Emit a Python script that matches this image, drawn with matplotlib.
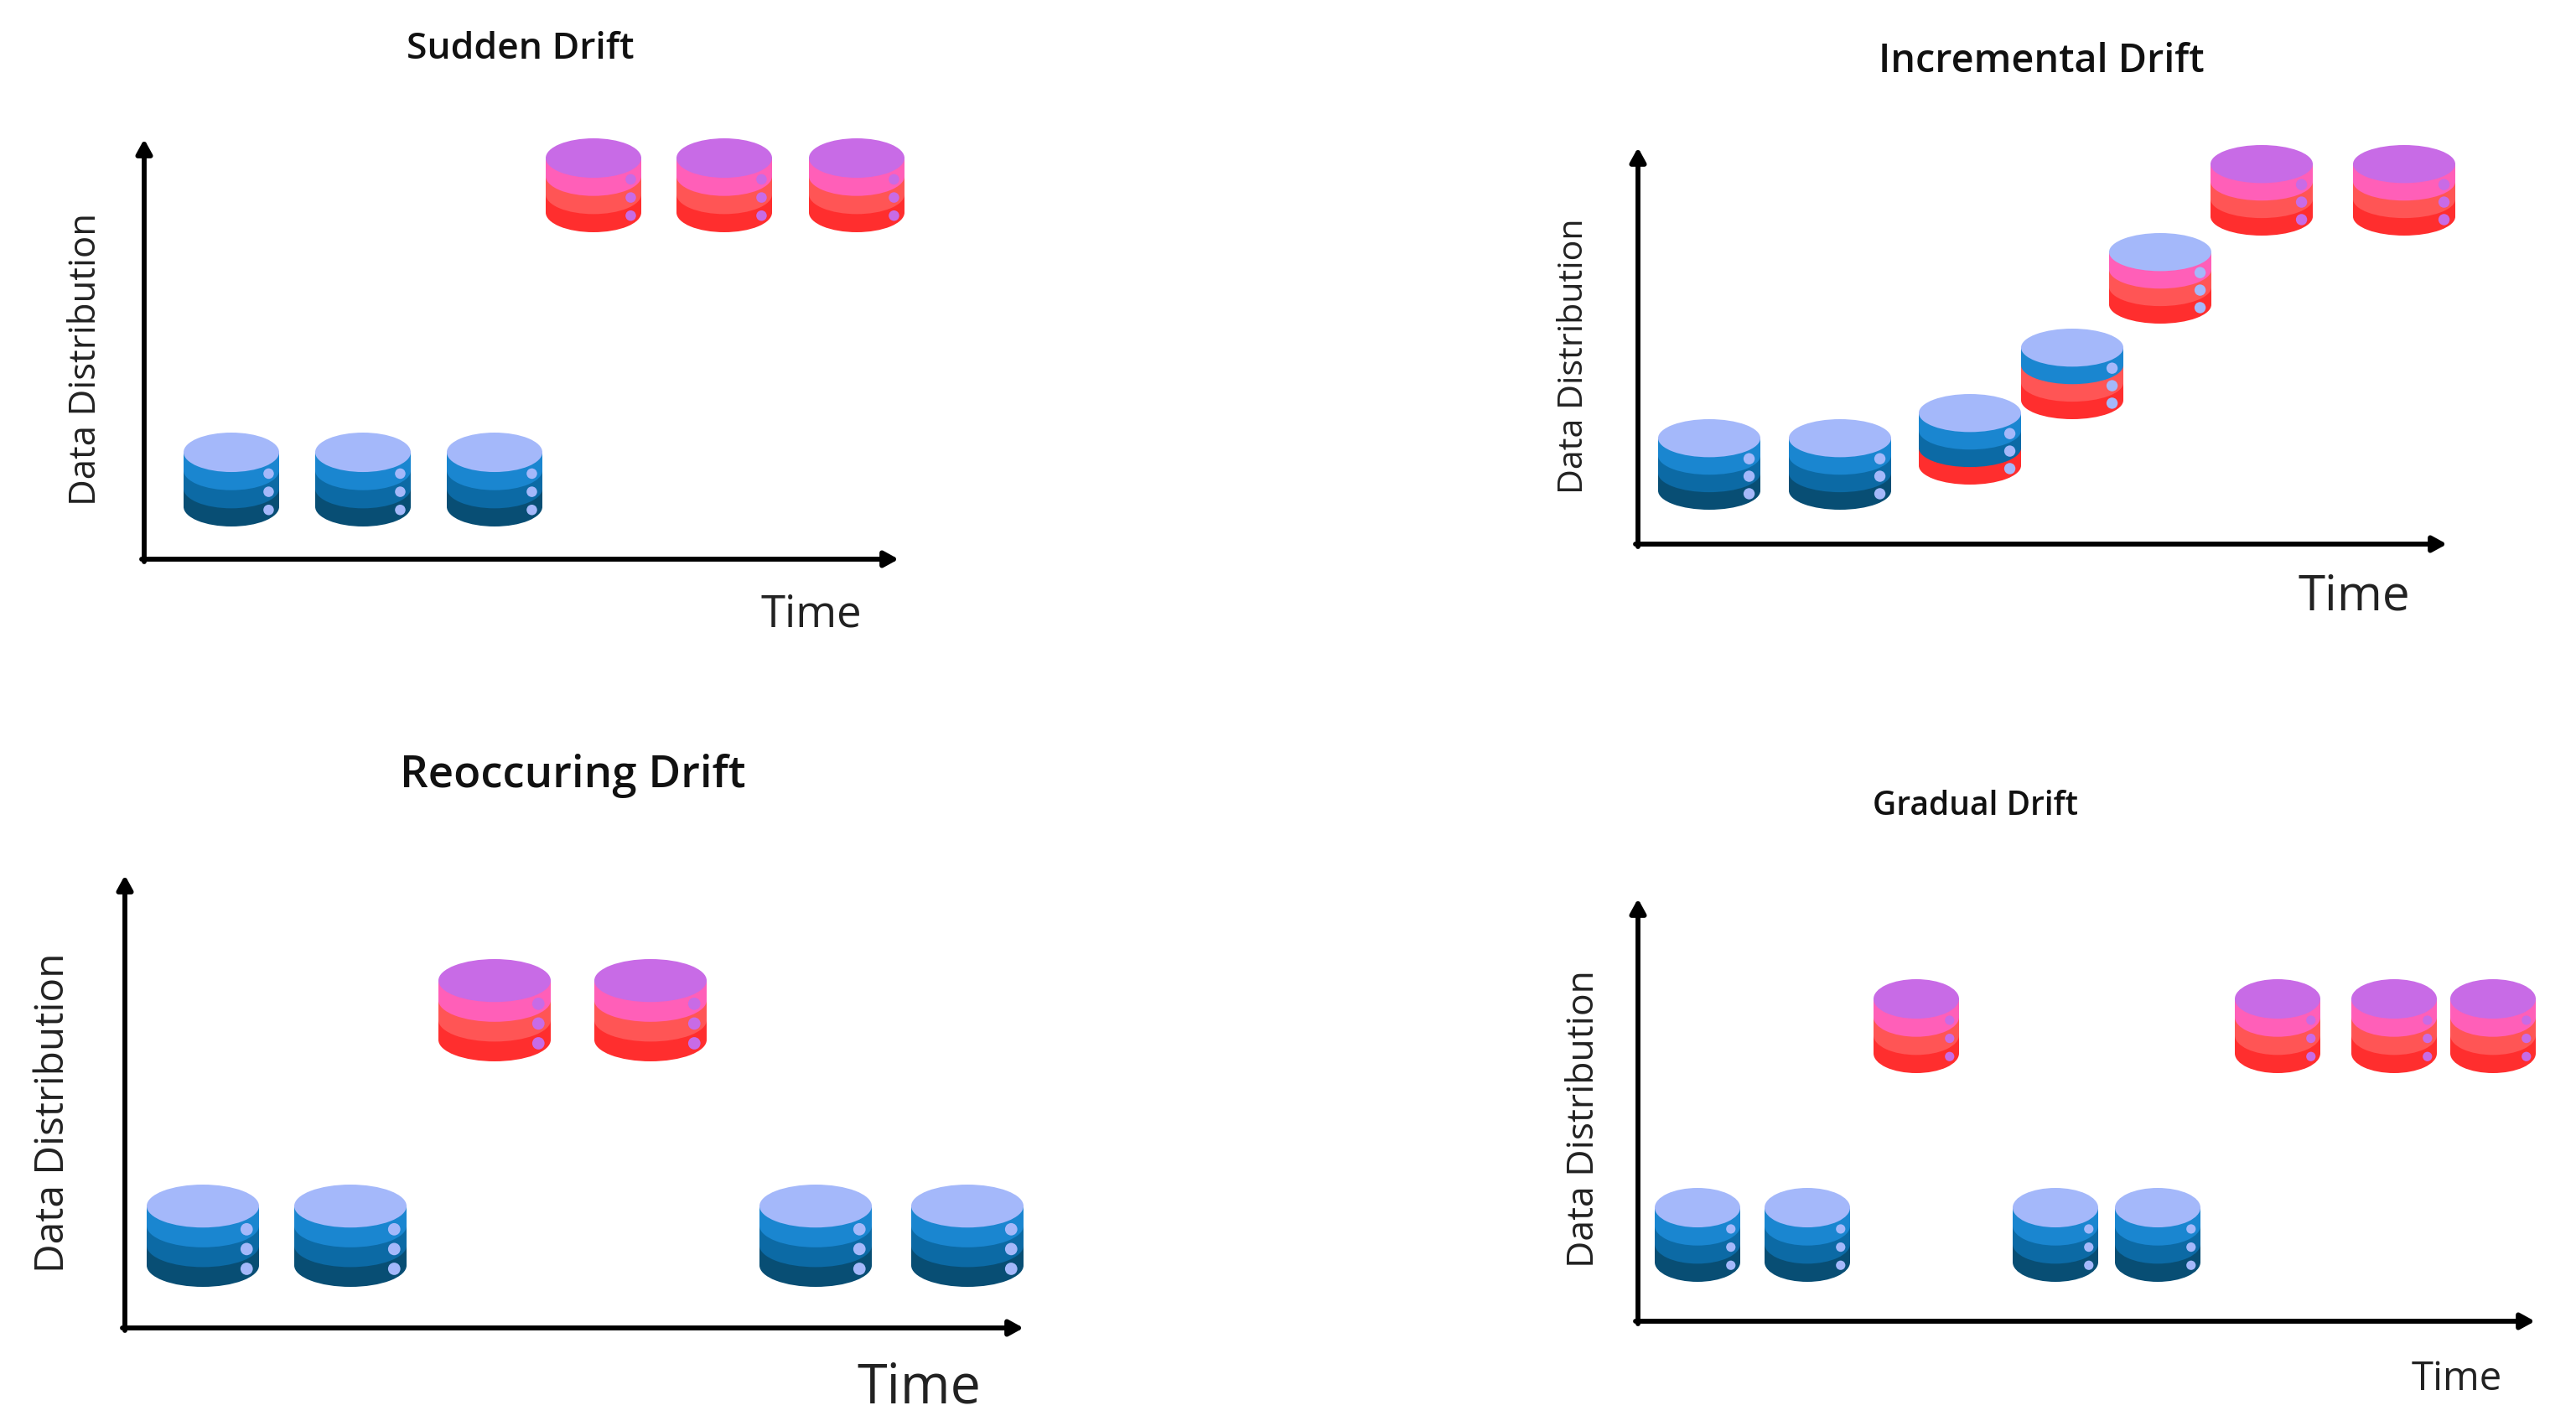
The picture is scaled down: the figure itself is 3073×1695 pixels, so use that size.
import matplotlib
matplotlib.use('Agg')
import matplotlib.pyplot as plt
from matplotlib.patches import Ellipse, Rectangle

FIG_W = 3073
FIG_H = 1695

LIGHT_BLUE = '#A4B8FA'
PURPLE = '#C86BE6'
BLUE = '#1A86D0'
DARK_BLUE = '#0C6AA5'
NAVY = '#084E74'
PINK = '#FF5FB8'
LIGHT_RED = '#FF5555'
RED = '#FF2E2E'

# top, upper, middle, lower band of each cylinder type
CYLINDER_KINDS = {
    'blue': [LIGHT_BLUE, BLUE, DARK_BLUE, NAVY],
    'mix1': [LIGHT_BLUE, BLUE, DARK_BLUE, RED],
    'mix2': [LIGHT_BLUE, BLUE, LIGHT_RED, RED],
    'mix3': [LIGHT_BLUE, PINK, LIGHT_RED, RED],
    'red': [PURPLE, PINK, LIGHT_RED, RED],
}

sudden_time = [104, 261, 418, 536, 692, 850]
sudden_dist = [39, 39, 39, 390, 390, 390]
sudden_kind = ['blue', 'blue', 'blue', 'red', 'red', 'red']

incremental_time = [85, 241, 396, 518, 623, 744, 914]
incremental_dist = [41, 41, 71, 149, 263, 368, 368]
incremental_kind = ['blue', 'blue', 'mix1', 'mix2', 'mix3', 'red', 'red']

reoccuring_time = [93, 269, 441, 627, 824, 1005]
reoccuring_dist = [49, 49, 318, 318, 49, 49]
reoccuring_kind = ['blue', 'blue', 'red', 'red', 'blue', 'blue']

gradual_time = [71, 202, 332, 498, 620, 763, 902, 1020]
gradual_dist = [47, 47, 296, 47, 47, 296, 296, 296]
gradual_kind = ['blue', 'blue', 'red', 'blue', 'blue', 'red', 'red', 'red']

plt.rcParams['font.family'] = ['Open Sans', 'DejaVu Sans']


# Add one database cylinder, (x, y) is the middle of its bottom edge
def draw_cylinder(ax, x, y, kind, width, height):
    colors = CYLINDER_KINDS[kind]
    cap = 0.42 * height
    step = (height - cap) / 3
    for i in range(3):
        # lowest band goes first, the others are painted over it
        center = y + cap / 2 + step * i
        color = colors[3 - i]
        ax.add_patch(Ellipse((x, center), width, cap, color=color, lw=0, clip_on=False))
        ax.add_patch(Rectangle((x - width / 2, center), width, step, color=color, lw=0,
                               clip_on=False))
    ax.add_patch(Ellipse((x, y + height - cap / 2), width, cap, color=colors[0], lw=0,
                         clip_on=False))
    for i in range(3):
        dot_y = y + cap * 0.42 + step * i
        ax.add_patch(Ellipse((x + width * 0.39, dot_y), width * 0.11, width * 0.11,
                             color=colors[0], lw=0, clip_on=False))


def draw_panel(fig, origin, length, tall, times, dists, kinds, size, title, title_pos,
               title_size, time_pos, time_size, ylabel_pos, ylabel_size):
    left = origin[0] / FIG_W
    bottom = 1 - origin[1] / FIG_H
    ax = fig.add_axes([left, bottom, length / FIG_W, tall / FIG_H])
    ax.set_xlim(0, length)
    ax.set_ylim(0, tall)
    ax.axis('off')

    for t, d, k in zip(times, dists, kinds):
        draw_cylinder(ax, t, d, k, size[0], size[1])

    ax.annotate('', xy=(length, 0), xytext=(-3, 0), annotation_clip=False,
                arrowprops=dict(arrowstyle='-|>,head_length=1.0,head_width=0.55', lw=4.2,
                                color='black', shrinkA=0, shrinkB=0))
    ax.annotate('', xy=(0, tall), xytext=(0, -3), annotation_clip=False,
                arrowprops=dict(arrowstyle='-|>,head_length=1.0,head_width=0.55', lw=4.2,
                                color='black', shrinkA=0, shrinkB=0))

    fig.text(title_pos[0] / FIG_W, 1 - title_pos[1] / FIG_H, title, fontsize=title_size,
             fontweight='semibold', ha='center', va='center', color='#111111')
    fig.text(time_pos[0] / FIG_W, 1 - time_pos[1] / FIG_H, 'Time', fontsize=time_size,
             ha='center', va='center', color='#222222')
    fig.text(ylabel_pos[0] / FIG_W, 1 - ylabel_pos[1] / FIG_H, 'Data Distribution',
             fontsize=ylabel_size, rotation=90, ha='center', va='center', color='#222222')


fig = plt.figure(figsize=(FIG_W / 100, FIG_H / 100), dpi=100, facecolor='white')

draw_panel(fig, (172, 667), 900, 501, sudden_time, sudden_dist, sudden_kind, (114, 112),
           'Sudden Drift', (621, 58), 32, (968, 734), 38, (103, 428), 31.5)
draw_panel(fig, (1954, 649), 965, 473, incremental_time, incremental_dist, incremental_kind,
           (122, 108), 'Incremental Drift', (2435, 74), 33.7, (2808, 712), 42, (1878, 425), 29.7)
draw_panel(fig, (149, 1584), 1072, 540, reoccuring_time, reoccuring_dist, reoccuring_kind,
           (134, 122), 'Reoccuring Drift', (683, 926), 38, (1096, 1657), 46.5, (63, 1327), 34.5)
draw_panel(fig, (1954, 1576), 1070, 504, gradual_time, gradual_dist, gradual_kind,
           (102, 112), 'Gradual Drift', (2356, 962), 28, (2931, 1645), 34, (1890, 1335), 32)

fig.savefig('out.png', dpi=100)
